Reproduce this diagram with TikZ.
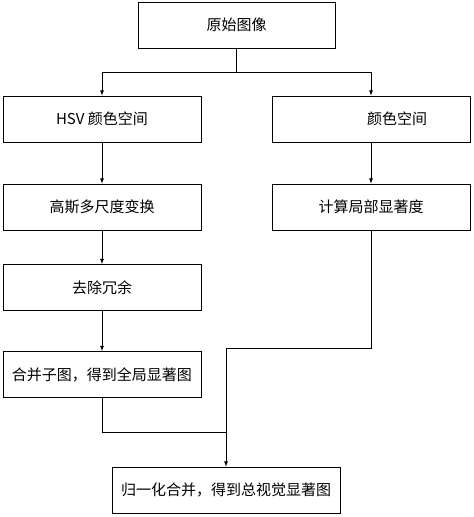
\documentclass[tikz,border=0pt]{standalone}
\usepackage{fontspec}
\newfontfamily\cjk{Noto Sans CJK SC}
\begin{document}
\begin{tikzpicture}[
        x=1pt, y=-1pt,
        block/.style={rectangle, draw, line width=0.8pt, inner sep=0pt, minimum width=198pt, minimum height=46pt, font=\cjk\fontsize{15}{17}\selectfont},
        line/.style={draw, line width=0.8pt, ->, >=latex}
    ]
        \useasboundingbox (0,0) rectangle (474,517);

        \node[block, minimum width=197pt] (orig) at (236.5, 25) {原始图像};

        \node[block] (hsv) at (102, 119) {HSV 颜色空间};
        \node[block] (color) at (371, 119) {\hspace*{52pt}颜色空间};

        \node[block] (gauss) at (102, 207) {高斯多尺度变换};
        \node[block] (local) at (371, 207) {计算局部显著度};

        \node[block] (redund) at (102, 287.5) {去除冗余};
        \node[block] (globalmap) at (102, 374.5) {合并子图，得到全局显著图};

        \node[block, minimum width=228pt] (final) at (226, 490) {归一化合并，得到总视觉显著图};

        \coordinate (split) at (236.5, 72);
        \coordinate (join) at (226, 348);
        \coordinate (meet) at (226, 432);

        \draw[line width=0.8pt] (orig) -- (split);
        \draw[line] (split) -| (hsv);
        \draw[line] (split) -| (color);
        \draw[line] (hsv) -- (gauss);
        \draw[line] (color) -- (local);
        \draw[line] (gauss) -- (redund);
        \draw[line] (redund) -- (globalmap);

        \draw[line width=0.8pt] (globalmap) |- (meet);
        \draw[line] (local) |- (join) -- (final);
    \end{tikzpicture}
\end{document}
